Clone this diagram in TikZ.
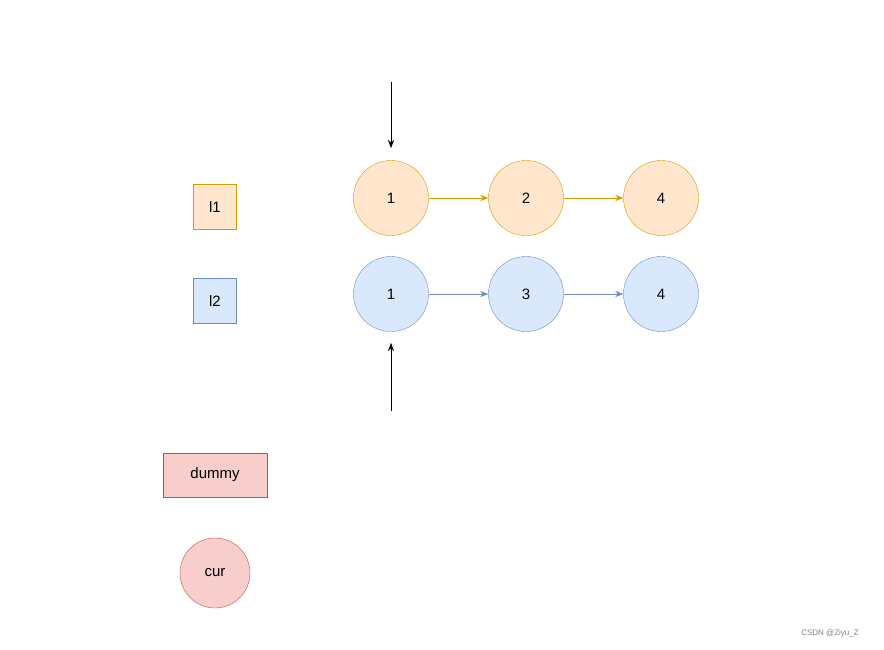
\documentclass[tikz,border=0pt]{standalone}
\usepackage{fontspec}
\setmainfont{Liberation Sans}
\usetikzlibrary{arrows.meta}
\definecolor{of}{HTML}{FFE6CC}\definecolor{os}{HTML}{D79B00}
\definecolor{bf}{HTML}{DAE8FC}\definecolor{bs}{HTML}{6C8EBF}
\definecolor{rf}{HTML}{F8CECC}\definecolor{rs}{HTML}{B85450}
\begin{document}
\begin{tikzpicture}[x=1pt,y=1pt,
  lbl/.style={font=\fontsize{15}{18}\selectfont},
  oc/.style={circle,draw=os,fill=of,minimum size=75pt,inner sep=0,lbl},
  bc/.style={circle,draw=bs,fill=bf,minimum size=75pt,inner sep=0,lbl},
  ob/.style={draw=os,fill=of,minimum width=43pt,minimum height=45pt,inner sep=0,lbl},
  bb/.style={draw=bs,fill=bf,minimum width=43pt,minimum height=45pt,inner sep=0,lbl},
  arr/.style={-{Stealth[length=8pt,width=6pt]}}]
\useasboundingbox (0,0) rectangle (884,-649);
\node[ob] (l1) at (215,-207) {l1};
\node[bb] (l2) at (215,-301) {l2};
\node[oc] (a1) at (391,-198) {1};
\node[oc] (a2) at (526,-198) {2};
\node[oc] (a3) at (661,-198) {4};
\node[bc] (b1) at (391,-294) {1};
\node[bc] (b2) at (526,-294) {3};
\node[bc] (b3) at (661,-294) {4};
\draw[arr,os] (a1) -- (a2); \draw[arr,os] (a2) -- (a3);
\draw[arr,bs] (b1) -- (b2); \draw[arr,bs] (b2) -- (b3);
\coordinate (t) at (391,-82); \coordinate (tb) at (391,-148);
\coordinate (u) at (391,-411); \coordinate (ub) at (391,-343);
\draw[arr] (t) -- (tb);
\draw[arr] (u) -- (ub);
\node[draw=rs,fill=rf,minimum width=104pt,minimum height=44pt,inner sep=0,lbl] (d) at (215,-475) {dummy};
\node[circle,draw=rs,fill=rf,minimum size=70pt,inner sep=0,lbl] (c) at (215,-573) {cur};
\node[text=gray,font=\fontsize{8}{10}\selectfont] (w) at (830,-633) {CSDN @Ziyu\_Z};
\end{tikzpicture}
\end{document}
